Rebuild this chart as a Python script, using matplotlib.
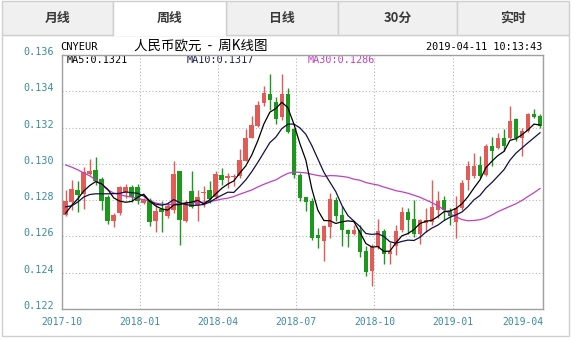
import numpy as np
import pandas as pd
import matplotlib.pyplot as plt
import matplotlib.dates as mdates
from matplotlib.patches import Rectangle

# weekly candles (week ending Friday)
first_week = '2017-10-06'
n_weeks = 80

opens = [0.12716, 0.12789, 0.12857, 0.12835, 0.12945, 0.12967, 0.12917, 0.12820, 0.12685, 0.12728,
         0.12839, 0.12875, 0.12872, 0.12787, 0.12802, 0.12683, 0.12752, 0.12710, 0.12747, 0.12963,
         0.12683, 0.12848, 0.12771, 0.12838, 0.12857, 0.12815, 0.12937, 0.12923, 0.12925, 0.12932,
         0.13018, 0.13144, 0.13209, 0.13334, 0.13385, 0.13339, 0.13257, 0.13385, 0.13190, 0.12941,
         0.12815, 0.12797, 0.12606, 0.12574, 0.12651, 0.12803, 0.12720, 0.12634, 0.12615, 0.12634,
         0.12522, 0.12411, 0.12540, 0.12628, 0.12504, 0.12550, 0.12634, 0.12735, 0.12694, 0.12615,
         0.12676, 0.12680, 0.12747, 0.12802, 0.12738, 0.12682, 0.12756, 0.12913, 0.12935, 0.12996,
         0.12941, 0.13098, 0.13089, 0.13144, 0.13144, 0.13246, 0.13144, 0.13181, 0.13274, 0.13265]
highs = [0.12857, 0.12912, 0.12908, 0.12982, 0.13028, 0.13037, 0.12930, 0.12830, 0.12730, 0.12880,
         0.12890, 0.12885, 0.12890, 0.12810, 0.12810, 0.12776, 0.12794, 0.12790, 0.13018, 0.12963,
         0.12800, 0.12963, 0.12857, 0.12876, 0.12904, 0.12960, 0.12978, 0.12950, 0.12945, 0.13080,
         0.13190, 0.13265, 0.13348, 0.13431, 0.13495, 0.13366, 0.13495, 0.13418, 0.13198, 0.12950,
         0.12820, 0.12811, 0.12648, 0.12665, 0.12840, 0.12816, 0.12767, 0.12643, 0.12661, 0.12661,
         0.12550, 0.12559, 0.12698, 0.12643, 0.12569, 0.12661, 0.12763, 0.12754, 0.12800, 0.12698,
         0.12754, 0.12910, 0.12849, 0.12821, 0.12756, 0.12821, 0.12913, 0.13015, 0.13061, 0.13043,
         0.13111, 0.13148, 0.13172, 0.13190, 0.13320, 0.13255, 0.13200, 0.13283, 0.13302, 0.13274]
lows = [0.12710, 0.12743, 0.12735, 0.12752, 0.12936, 0.12885, 0.12745, 0.12670, 0.12650, 0.12720,
        0.12810, 0.12790, 0.12780, 0.12780, 0.12660, 0.12626, 0.12626, 0.12700, 0.12728, 0.12552,
        0.12680, 0.12755, 0.12683, 0.12760, 0.12784, 0.12808, 0.12885, 0.12867, 0.12876, 0.12923,
        0.13015, 0.13140, 0.13204, 0.13321, 0.13296, 0.13218, 0.13244, 0.13170, 0.12923, 0.12795,
        0.12742, 0.12582, 0.12534, 0.12464, 0.12593, 0.12683, 0.12547, 0.12541, 0.12606, 0.12486,
        0.12384, 0.12328, 0.12532, 0.12448, 0.12448, 0.12495, 0.12624, 0.12615, 0.12597, 0.12560,
        0.12624, 0.12661, 0.12701, 0.12690, 0.12664, 0.12590, 0.12747, 0.12858, 0.12922, 0.12922,
        0.12932, 0.12987, 0.13080, 0.13070, 0.13135, 0.13126, 0.13043, 0.13178, 0.13255, 0.13200]
closes = [0.12794, 0.12862, 0.12829, 0.12954, 0.12963, 0.12905, 0.12794, 0.12683, 0.12718, 0.12872,
          0.12875, 0.12817, 0.12798, 0.12802, 0.12679, 0.12742, 0.12737, 0.12765, 0.12945, 0.12691,
          0.12784, 0.12760, 0.12815, 0.12845, 0.12808, 0.12945, 0.12913, 0.12932, 0.12932, 0.13024,
          0.13144, 0.13215, 0.13323, 0.13389, 0.13352, 0.13247, 0.13385, 0.13176, 0.12941, 0.12813,
          0.12788, 0.12591, 0.12590, 0.12656, 0.12809, 0.12711, 0.12638, 0.12615, 0.12637, 0.12513,
          0.12402, 0.12540, 0.12628, 0.12504, 0.12522, 0.12628, 0.12735, 0.12689, 0.12615, 0.12689,
          0.12689, 0.12763, 0.12793, 0.12747, 0.12710, 0.12756, 0.12895, 0.12987, 0.12987, 0.12932,
          0.13098, 0.13070, 0.13144, 0.13098, 0.13237, 0.13144, 0.13181, 0.13274, 0.13260, 0.13209]

# MA values for the first weeks (window not yet full)
ma5_head = [0.12728, 0.12771, 0.12807, 0.12850]
ma10_head = [0.12763, 0.12769, 0.12789, 0.12817, 0.12831, 0.12835, 0.12835, 0.12835, 0.12836]
ma30_head = [0.12994, 0.12982, 0.12967, 0.12950, 0.12934, 0.12912, 0.12881, 0.12857, 0.12839, 0.12830,
             0.12822, 0.12817, 0.12809, 0.12802, 0.12797, 0.12784, 0.12778, 0.12774, 0.12778, 0.12782,
             0.12785, 0.12787, 0.12785, 0.12789, 0.12793, 0.12798, 0.12806, 0.12811, 0.12820]

tabs = ['月线', '周线', '日线', '30分', '实时']
tab_edges = [2, 113, 226, 338, 457, 569]
active_tab = 1

y_ticks = [0.122, 0.124, 0.126, 0.128, 0.130, 0.132, 0.134, 0.136]
x_grid_dates = ['2018-01-01', '2018-04-01', '2018-07-01', '2018-10-01', '2019-01-01']
x_grid_labels = ['2018-01', '2018-04', '2018-07', '2018-10', '2019-01']

# moving averages
c = pd.Series(closes)
ma5 = c.rolling(5).mean().values
ma5[:len(ma5_head)] = ma5_head
ma10 = c.rolling(10).mean().values
ma10[:len(ma10_head)] = ma10_head
ma30 = c.rolling(30).mean().values
ma30[:len(ma30_head)] = ma30_head

weeks = pd.date_range(first_week, periods=n_weeks, freq='7D')
x = mdates.date2num(weeks)

up_col = '#e25b57'
down_col = '#1c981c'
mono = 'DejaVu Sans Mono'
cjk = ['Noto Sans CJK SC', 'DejaVu Sans']

fig = plt.figure(figsize=(5.74, 3.40), dpi=100)

# background layer in pixel coordinates
bg = fig.add_axes([0, 0, 1, 1], zorder=0)
bg.set_xlim(0, 574)
bg.set_ylim(340, 0)
bg.axis('off')

# panel border
bg.add_patch(Rectangle((2, 35), 567, 301, fill=False, edgecolor='#cfcfcf', lw=1))

# tabs
for i, name in enumerate(tabs):
    x0, x1 = tab_edges[i], tab_edges[i + 1]
    if i == active_tab:
        bg.add_patch(Rectangle((x0, 0.5), x1 - x0, 35, facecolor='white', edgecolor='none', zorder=3))
        bg.plot([x0, x0, x1, x1], [35, 0.5, 0.5, 35], color='#cfcfcf', lw=1, zorder=4)
    else:
        bg.add_patch(Rectangle((x0, 0.5), x1 - x0, 34.5, facecolor='#f0f0f0', edgecolor='#cfcfcf', lw=1, zorder=2))
    bg.text((x0 + x1) / 2, 18, name, ha='center', va='center', fontsize=9.3,
            fontweight='bold', color='#3a3a3a', family=cjk, zorder=5)

# header texts
bg.text(60, 50, 'CNYEUR', fontsize=7.5, family=mono, va='baseline', color='black')
bg.text(201, 49, '人民币欧元  -  周K线图', fontsize=9.7, family=cjk, ha='center',
        va='baseline', color='black')
bg.text(542, 50, '2019-04-11 10:13:43', fontsize=7.3, family=mono, ha='right',
        va='baseline', color='black')

# MA labels
bg.text(67, 63, 'MA5:%.4f' % ma5[-1], fontsize=7.3, family=mono, va='baseline', color='black')
bg.text(187, 63, 'MA10:%.4f' % ma10[-1], fontsize=7.3, family=mono, va='baseline', color='#1a1a4a')
bg.text(308, 63, 'MA30:%.4f' % ma30[-1], fontsize=7.3, family=mono, va='baseline', color='#c040c0')

# main chart
ax = fig.add_axes([62 / 574, 1 - 309 / 340, (543 - 62) / 574, (309 - 55) / 340], zorder=1)
ax.set_facecolor('none')

o = np.array(opens)
h = np.array(highs)
l = np.array(lows)
cl = np.array(closes)
colors = np.where(cl >= o, up_col, down_col)

ax.vlines(x, l, h, colors=colors, lw=1.0, zorder=2)
bottoms = np.minimum(o, cl)
heights = np.maximum(np.abs(cl - o), 0.00004)
ax.bar(x, heights, bottom=bottoms, width=5.4, color=colors, edgecolor='none', zorder=3)

ax.plot(x, ma30, color='#c040c0', lw=0.9, zorder=4)
ax.plot(x, ma10, color='#10104a', lw=0.9, zorder=4)
ax.plot(x, ma5, color='black', lw=0.9, zorder=5)

left = x[0] - 4.3
right = x[-1] + 3.5
ax.set_xlim(left, right)
ax.set_ylim(0.122, 0.136)

grid_x = list(mdates.date2num(pd.to_datetime(x_grid_dates)))
ax.set_xticks([left] + grid_x + [right])
ax.set_xticklabels(['2017-10'] + x_grid_labels + ['2019-04'])
ax.get_xticklabels()[-1].set_ha('right')
ax.set_yticks(y_ticks)
ax.set_yticklabels(['%.3f' % v for v in y_ticks])
for lab in ax.get_yticklabels():
    lab.set_va('baseline')

ax.tick_params(length=0, colors='#3a8ca3')
ax.tick_params(axis='x', pad=6, labelsize=7.0)
ax.tick_params(axis='y', pad=6, labelsize=7.3)
for lab in ax.get_xticklabels() + ax.get_yticklabels():
    lab.set_family(mono)

ax.grid(True, color='#b5b5b5', ls=(0, (1, 2)), lw=0.8)
for s in ax.spines.values():
    s.set_color('#a0a0a0')
    s.set_linewidth(1)

fig.savefig('out.png', dpi=100)
